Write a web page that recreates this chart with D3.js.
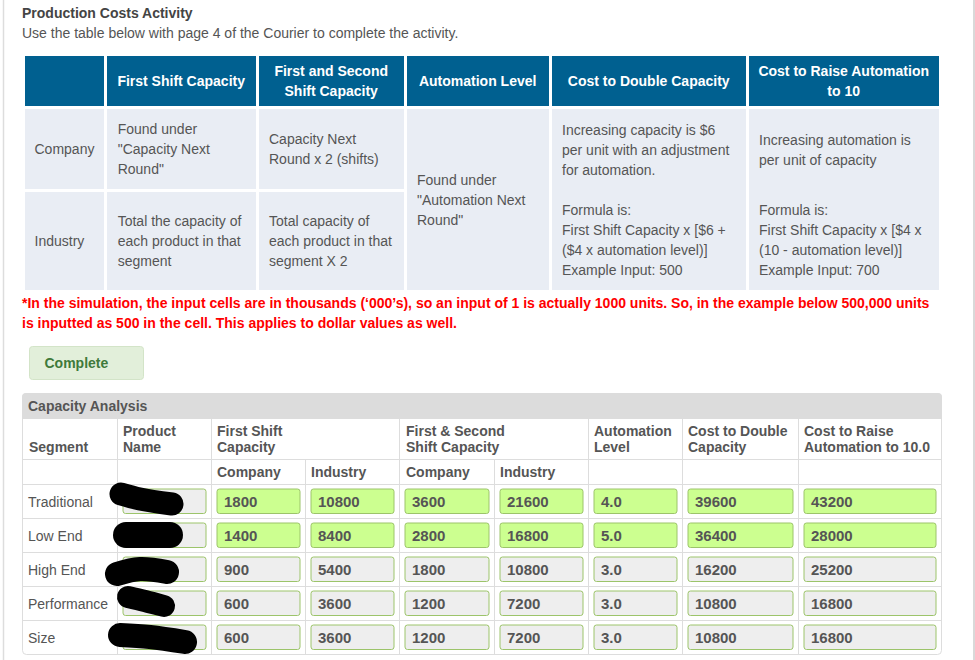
<!DOCTYPE html>
<html><head><meta charset="utf-8">
<script src="https://cdn.jsdelivr.net/npm/d3@7/dist/d3.min.js"></script>
<style>html,body{margin:0;padding:0;background:#fff;overflow:hidden}svg{display:block;font-family:"Liberation Sans",Arial,sans-serif;font-size:14px}</style>
</head><body><div id="c"></div>
<script>
// ---------- data ----------
const title = "Production Costs Activity";
const subtitle = "Use the table below with page 4 of the Courier to complete the activity.";
const guideHeaders = [[""],["First Shift Capacity"],["First and Second","Shift Capacity"],["Automation Level"],["Cost to Double Capacity"],["Cost to Raise Automation","to 10"]];
const guideCompany = [["Company"],["Found under","\"Capacity Next","Round\""],["Capacity Next","Round x 2 (shifts)"]];
const guideIndustry = [["Industry"],["Total the capacity of","each product in that","segment"],["Total capacity of","each product in that","segment X 2"]];
const guideAutomation = ["Found under","\"Automation Next","Round\""];
const guideDouble = ["Increasing capacity is $6","per unit with an adjustment","for automation.","","Formula is:","First Shift Capacity x [$6 +","($4 x automation level)]","Example Input: 500"];
const guideRaiseIntro = ["Increasing automation is","per unit of capacity"];
const guideRaiseFormula = ["Formula is:","First Shift Capacity x [$4 x","(10 - automation level)]","Example Input: 700"];
const note = ["*In the simulation, the input cells are in thousands (\u2018000\u2019s), so an input of 1 is actually 1000 units. So, in the example below 500,000 units","is inputted as 500 in the cell. This applies to dollar values as well."];
const buttonLabel = "Complete";
const panelTitle = "Capacity Analysis";
const segments = ["Traditional","Low End","High End","Performance","Size"];
const columns = ["product","firstCo","firstInd","bothCo","bothInd","auto","dbl","raise"];
const firstCompany = ["1800","1400","900","600","600"];
const firstIndustry = ["10800","8400","5400","3600","3600"];
const bothCompany = ["3600","2800","1800","1200","1200"];
const bothIndustry = ["21600","16800","10800","7200","7200"];
const automation = ["4.0","5.0","3.0","3.0","3.0"];
const costDouble = ["39600","36400","16200","10800","10800"];
const costRaise = ["43200","28000","25200","16800","16800"];
const productNames = ["","","","",""];
const highlighted = ["Traditional","Low End"];

// ---------- layout ----------
const W = 975, H = 660;
const svg = d3.select("#c").append("svg").attr("width",W).attr("height",H);
const INK="#555", HEAD="#006090", CELL="#e9edf4", RULE="#dddddd";
function lines(g,arr,x,y,o={}){
  arr.forEach((t,i)=>{ if(!t) return;
    g.append("text").attr("x",x).attr("y",y+i*(o.lh||20)).attr("fill",o.fill||INK)
     .attr("font-weight",o.bold?"bold":null).attr("text-anchor",o.anchor||"start")
     .attr("font-size",o.size||null).text(t);});
}
function rect(g,x0,y0,x1,y1,fill,stroke,r){
  return g.append("rect").attr("x",x0).attr("y",y0).attr("width",x1-x0).attr("height",y1-y0)
    .attr("fill",fill).attr("stroke",stroke||"none").attr("rx",r||0);
}
// page edges
svg.append("line").attr("x1",3.5).attr("x2",3.5).attr("y1",0).attr("y2",H).attr("stroke","#ddd").attr("stroke-width",1.5);
svg.append("line").attr("x1",974).attr("x2",974).attr("y1",0).attr("y2",H).attr("stroke","#ccc").attr("stroke-width",1.5);

const top_ = svg.append("g");
lines(top_,[title],22,18,{bold:true,fill:"#444"});
lines(top_,[subtitle],22,38);

// guide table
const gx = d3.scaleOrdinal([0,1,2,3,4,5],[[25,104],[107,256],[259,404],[407,549],[552,746],[749,939]]);
const guidePad = d3.scaleOrdinal([0,1,2],[9.5,10.7,10]);
guideHeaders.forEach((h,i)=>{
  const [a,b]=gx(i);
  rect(top_,a,56,b,106,HEAD);
  lines(top_,h,(a+b)/2-0.3,h.length>1?76:86,{bold:true,fill:"#fff",anchor:"middle"});
});
[0,1,2].forEach(i=>{
  const [a,b]=gx(i);
  rect(top_,a,109,b,189,CELL); rect(top_,a,192,b,290,CELL);
  lines(top_,guideCompany[i],a+guidePad(i),154-(guideCompany[i].length-1)*10);
  lines(top_,guideIndustry[i],a+guidePad(i),246-(guideIndustry[i].length-1)*10);
});
[3,4,5].forEach(i=>{const [a,b]=gx(i); rect(top_,a,109,b,290,CELL);});
lines(top_,guideAutomation,gx(3)[0]+10,185);
lines(top_,guideDouble,gx(4)[0]+10,135);
lines(top_,guideRaiseIntro,gx(5)[0]+10,145);
lines(top_,guideRaiseFormula,gx(5)[0]+10,215);
lines(top_,note,22,308,{bold:true,fill:"#ff0000"});

// button
rect(top_,29.5,346.5,143.5,379.5,"#e2efda","#d3e4c8",3);
lines(top_,[buttonLabel],44.5,368,{bold:true,fill:"#3f7a3a"});

// capacity panel
const panel = svg.append("g");
rect(panel,22.5,393.5,941.5,654.5,"#fff","#dddddd",4);
panel.append("path").attr("fill","#dcdcdc").attr("d","M22,419V397a4,4 0 0 1 4,-4H938a4,4 0 0 1 4,4V419Z");
lines(panel,[panelTitle],28,411,{bold:true});

const y = d3.scaleBand().domain(segments).range([484.5,654.5]);
const colLeft = d3.scaleOrdinal(columns,[117.5,211.5,305.5,399.5,494.5,588.5,682.5,798.5]);
const colRight = d3.scaleOrdinal(columns,[211.5,305.5,399.5,494.5,588.5,682.5,798.5,941.5]);

// rules
const rule=(x1,y1,x2,y2)=>panel.append("line").attr("x1",x1).attr("y1",y1).attr("x2",x2).attr("y2",y2).attr("stroke",RULE);
[459.5,484.5,...segments.slice(1).map(s=>y(s))].forEach(v=>rule(22.5,v,941.5,v));
["product","firstCo","bothCo","auto","dbl","raise"].forEach(c=>rule(colLeft(c),419,colLeft(c),654.5));
["firstInd","bothInd"].forEach(c=>rule(colLeft(c),459.5,colLeft(c),654.5));

// table headers
lines(panel,["Segment"],29,452,{bold:true,lh:16});
lines(panel,["Product","Name"],123,436,{bold:true,lh:16});
lines(panel,["First Shift","Capacity"],217,436,{bold:true,lh:16});
lines(panel,["First & Second","Shift Capacity"],406,436,{bold:true,lh:16});
lines(panel,["Automation","Level"],594,436,{bold:true,lh:16});
lines(panel,["Cost to Double","Capacity"],688,436,{bold:true,lh:16});
lines(panel,["Cost to Raise","Automation to 10.0"],804,436,{bold:true,lh:16});
[["firstCo","Company"],["firstInd","Industry"],["bothCo","Company"],["bothInd","Industry"]].forEach(([c,t])=>
  lines(panel,[t],colLeft(c)+(c==="bothCo"?6.5:5.5),477,{bold:true}));

// rows
const table = {product:productNames,firstCo:firstCompany,firstInd:firstIndustry,bothCo:bothCompany,bothInd:bothIndustry,auto:automation,dbl:costDouble,raise:costRaise};
segments.forEach((s,ri)=>{
  const top=y(s);
  lines(panel,[s],28,top+22);
  columns.forEach(c=>{
    const x0=colLeft(c)+5.5, x1=colRight(c)-5.5;
    const hot = highlighted.includes(s) && c!=="product";
    rect(panel,x0,top+4.5,x1,top+29,hot?"#ccff90":"#eeeeee","#9cc46a",2.5);
    if(table[c][ri]) lines(panel,[table[c][ri]],x0+7,top+22.5,{bold:true,size:15});
  });
});

// redaction scribbles over the product-name column
const scribbleWidth = d3.scaleOrdinal(segments,[23,26,24,22,24]);
const scribblePath = d3.scaleOrdinal(segments,[
  [[121,494],[140,499],[172,504]],
  [[126,535],[148,535],[170,535]],
  [[117,574],[140,569],[167,572]],
  [[128,597],[145,601],[164,606]],
  [[120,635],[150,637],[185,642]]
]);
const line = d3.line().curve(d3.curveCatmullRom);
segments.forEach(s=>panel.append("path").attr("d",line(scribblePath(s))).attr("fill","none")
  .attr("stroke","#000").attr("stroke-width",scribbleWidth(s)).attr("stroke-linecap","round"));
</script></body></html>
